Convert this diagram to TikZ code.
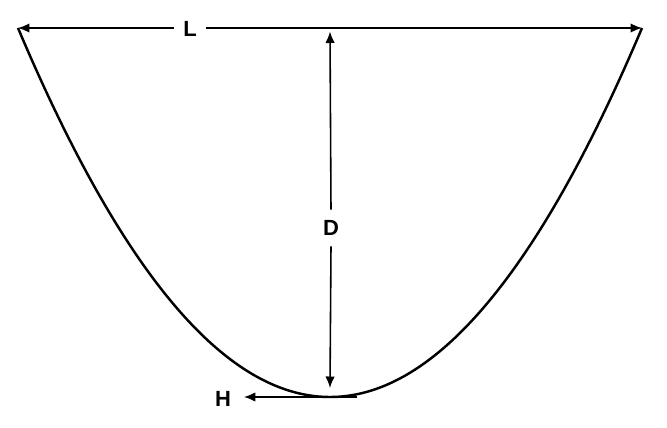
\documentclass[tikz,border=0pt]{standalone}
\usepackage{fontspec}
\setmainfont{Liberation Sans}
\usepackage{tikz}
\usetikzlibrary{arrows.meta,positioning}

\begin{document}
\begin{tikzpicture}[
  x=0.02cm, y=-0.02cm,
  curveStyle/.style={line width=1.4pt, line join=round},
  dimStyle/.style={line width=0.9pt, -{Latex[length=2.3mm, width=1.9mm]}},
  labelStyle/.style={font=\fontsize{12.5}{14}\selectfont\bfseries, inner sep=1.5pt}]

\useasboundingbox (0, 0) rectangle (667, 427);

\coordinate (leftTip) at (18, 28);
\coordinate (rightTip) at (642, 28);
\coordinate (topMid) at (330, 28);
\coordinate (vertex) at (330, 397);
\coordinate (hStart) at (357, 397);

\draw [curveStyle] plot [domain=-312:312, samples=90, smooth] ({330+\x}, {397-369*(\x/312)^2});

\node [labelStyle, inner xsep=5pt] (lLabel) at (190, 29) {L};
\node [labelStyle, inner ysep=6pt] (dLabel) at (331, 228) {D};
\node [labelStyle] (hLabel) at (223, 399) {H};

\draw [dimStyle] (lLabel.west |- leftTip) -- (leftTip);
\draw [dimStyle] (lLabel.east |- rightTip) -- (rightTip);
\draw [dimStyle] (dLabel.north) -- ([yshift=-0.07cm] topMid);
\draw [dimStyle] (dLabel.south) -- ([yshift=0.18cm] vertex);
\draw [dimStyle] (hStart) -- ([xshift=0.2cm] hStart -| hLabel.east);
\end{tikzpicture}
\end{document}
